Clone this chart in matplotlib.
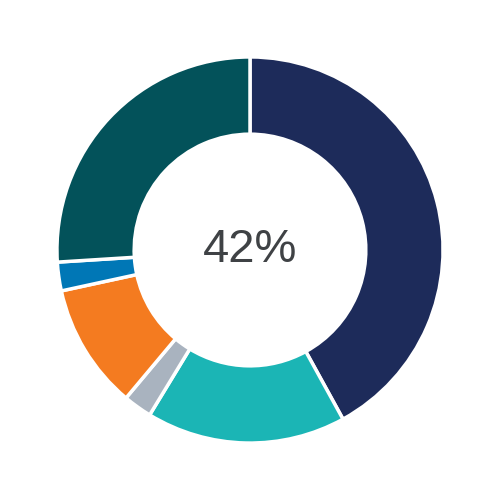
import matplotlib
matplotlib.use("Agg")
import matplotlib.pyplot as plt

labels = ["Navy", "Teal", "Gray", "Orange", "Blue", "Dark green"]
values = [42, 16.7, 2.4, 10.5, 2.4, 26.0]
colors = ["#1d2b5a", "#1bb5b5", "#a9b3bf", "#f47b20", "#0077b6", "#03525a"]
center_text = "42%"

fig = plt.figure(figsize=(5, 5), dpi=100)
ax = fig.add_axes([0, 0, 1, 1])
ax.pie(values, colors=colors, startangle=90, counterclock=False, radius=1.0,
       wedgeprops=dict(width=0.40, edgecolor="white", linewidth=2.5))
ax.set_xlim(-1.295, 1.295)
ax.set_ylim(-1.295, 1.295)
ax.set_aspect("equal")
ax.text(0, 0.0, center_text, ha="center", va="center", fontsize=34,
        color="#3f4245", family="Liberation Sans")
ax.axis("off")

fig.savefig("out.png", dpi=100, facecolor="white")
